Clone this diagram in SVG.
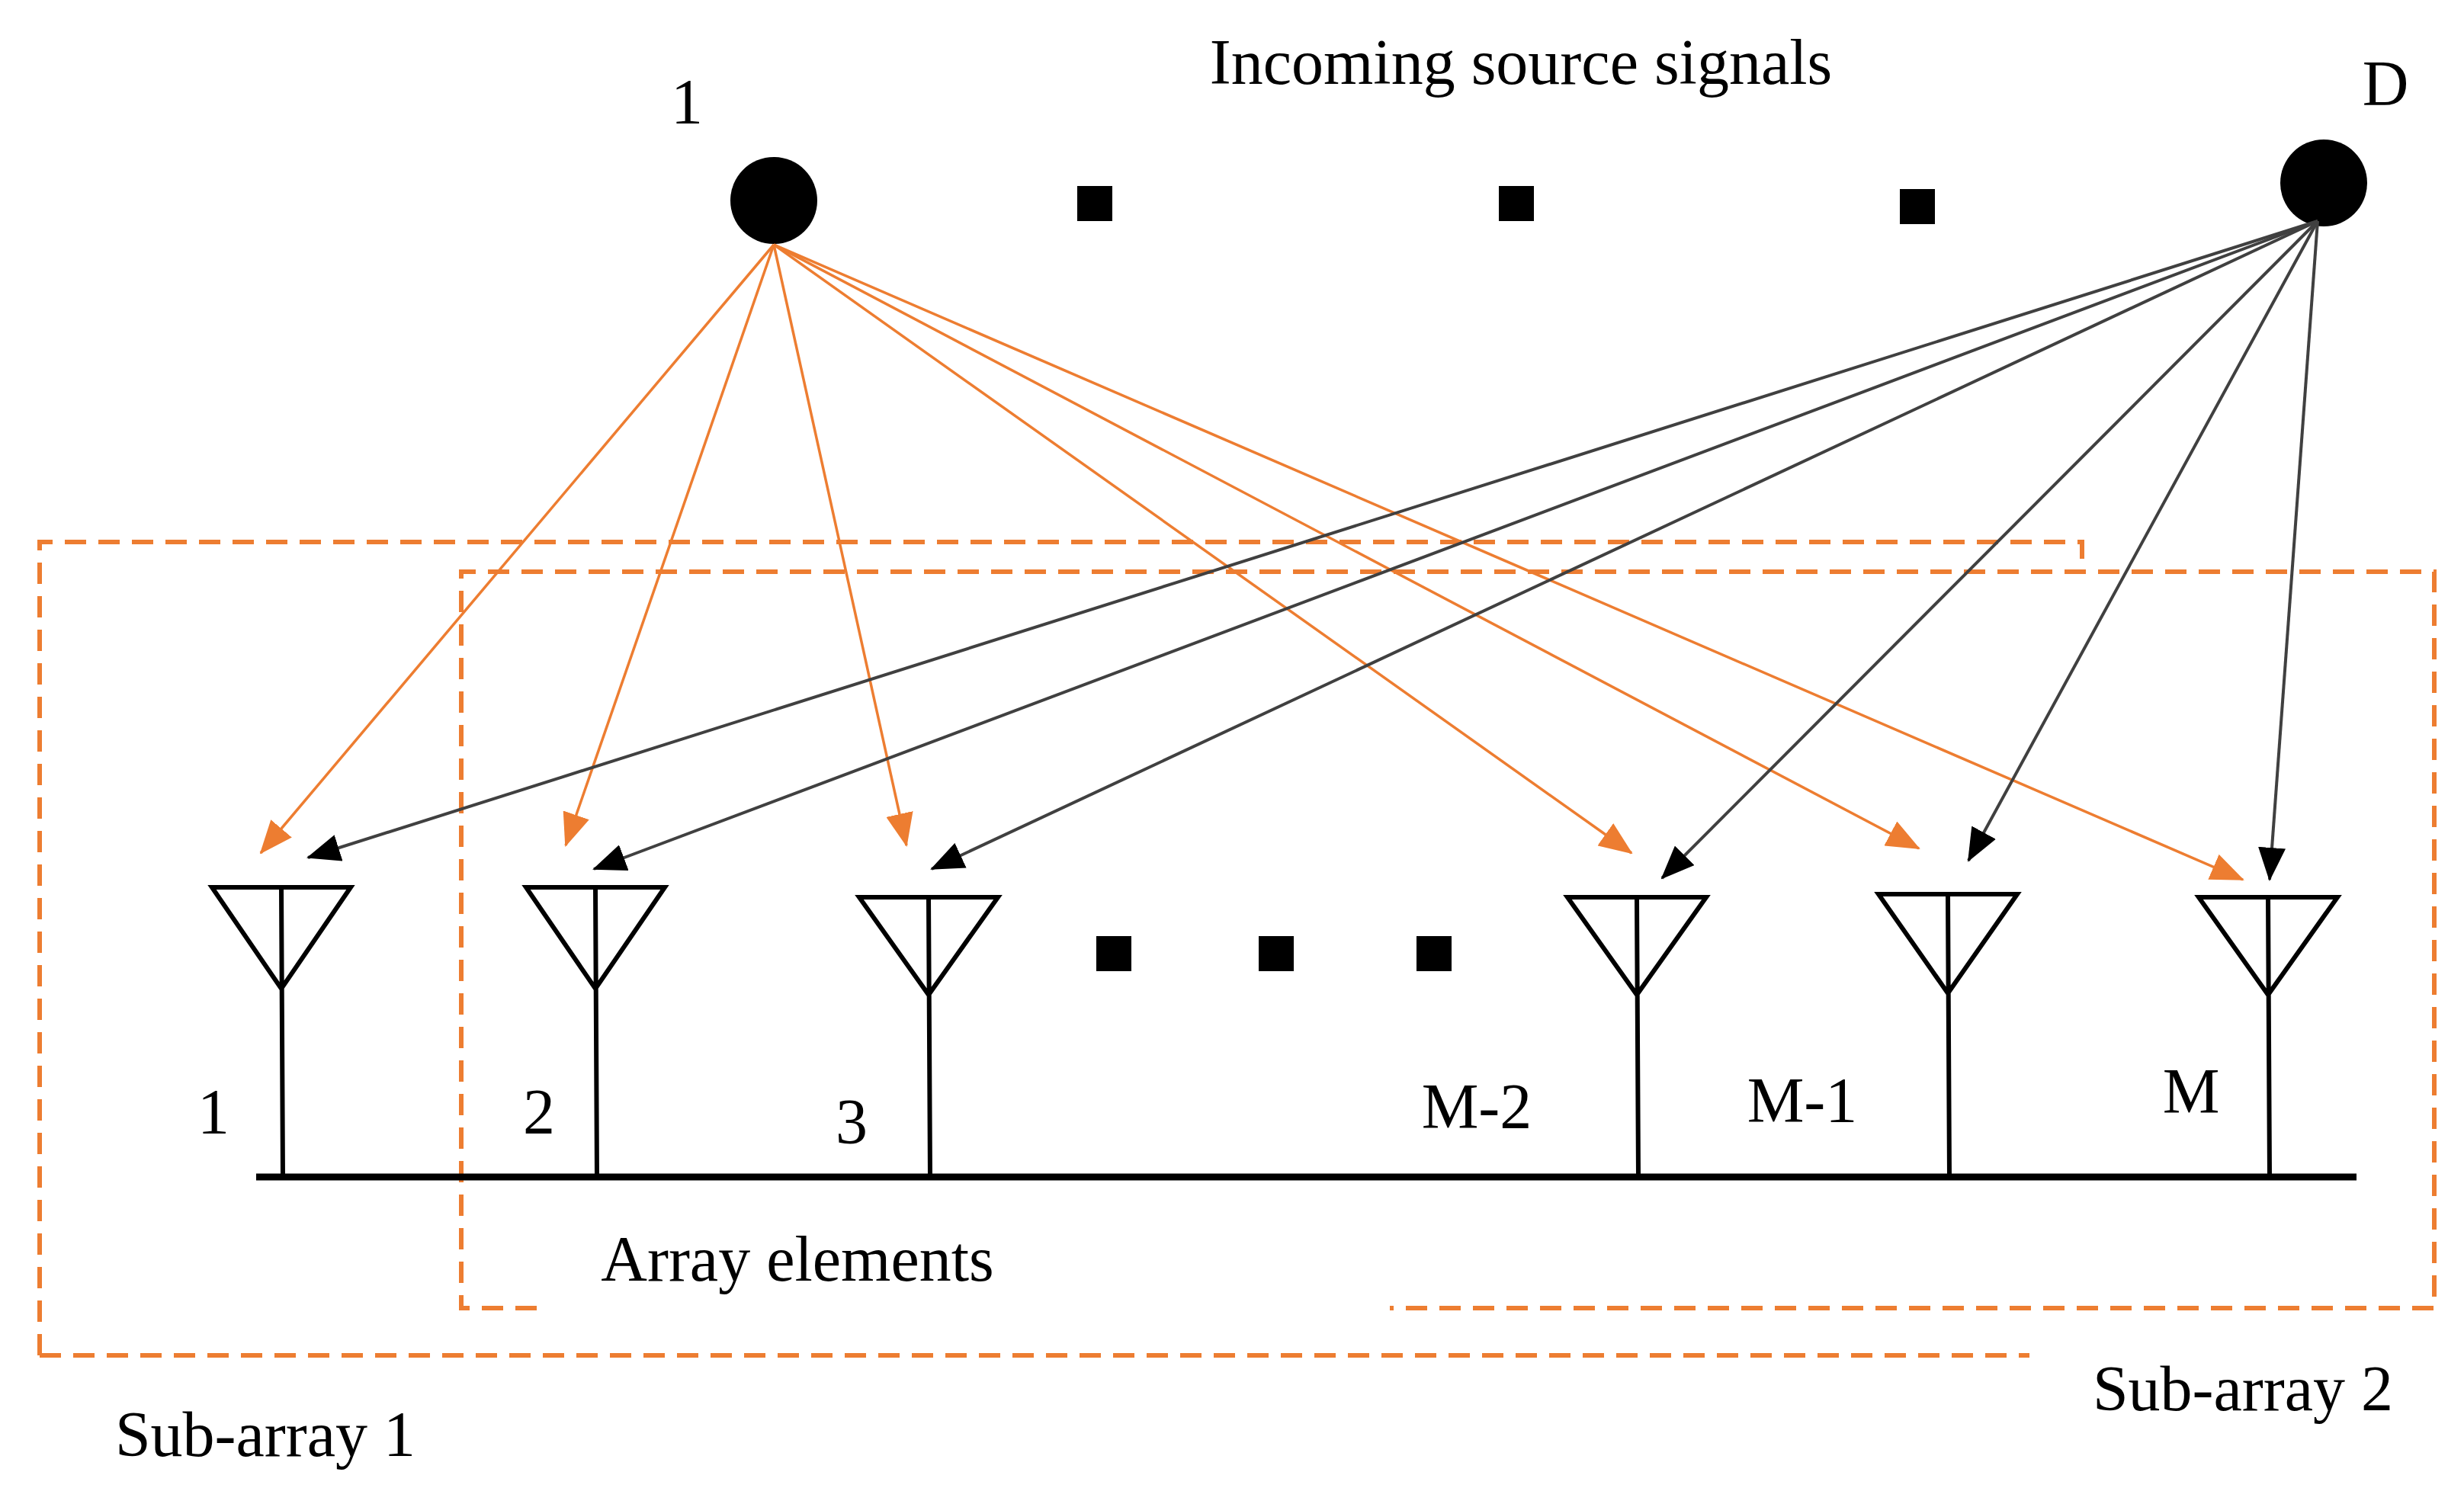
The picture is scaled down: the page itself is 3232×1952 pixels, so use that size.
<svg xmlns="http://www.w3.org/2000/svg" width="3232" height="1952" viewBox="0 0 3232 1952">
<style>
text{font-family:"Liberation Serif","Times New Roman",serif;fill:#000}
.lbl{font-size:84px}
.ant{fill:none;stroke:#000;stroke-width:6}
.or{stroke:#ED7D31;stroke-width:3.5;fill:none;marker-end:url(#ao)}
.bk{stroke:#404040;stroke-width:4;fill:none;marker-end:url(#ab)}
.dash{fill:none;stroke:#ED7D31;stroke-width:6;stroke-dasharray:28 16}
</style>
<defs>
<marker id="ao" markerUnits="userSpaceOnUse" markerWidth="44" markerHeight="36" refX="42" refY="18" orient="auto"><path d="M0,0 L44,18 L0,36 Z" fill="#ED7D31"/></marker>
<marker id="ab" markerUnits="userSpaceOnUse" markerWidth="44" markerHeight="36" refX="42" refY="18" orient="auto"><path d="M0,0 L44,18 L0,36 Z" fill="#000"/></marker>
</defs>
<rect width="3232" height="1952" fill="#fff"/>
<g id="subarrays">
<path class="dash" d="M52,1778 L52,711 L2731,711 L2731,750"/>
<path class="dash" d="M52,1778 L2662,1778"/>
<path class="dash" d="M704,1716 L605,1716 L605,750 L3193,750 L3193,1716 L1823,1716"/>
</g>
<text class="lbl" x="1995" y="110" text-anchor="middle">Incoming source signals</text>
<g id="source1"><circle cx="1015" cy="263" r="57"/><text class="lbl" x="901" y="162" text-anchor="middle">1</text></g>
<g id="sourceD"><circle cx="3048" cy="240" r="57"/><text class="lbl" x="3129" y="138" text-anchor="middle">D</text></g>
<g id="dots-top"><rect x="1413" y="244" width="46" height="46"/><rect x="1966" y="244" width="46" height="46"/><rect x="2492" y="248" width="46" height="46"/></g>
<g id="dots-bottom"><rect x="1438" y="1228" width="46" height="46"/><rect x="1651" y="1228" width="46" height="46"/><rect x="1858" y="1228" width="46" height="46"/></g>
<g id="bus"><line x1="336" y1="1544" x2="3091" y2="1544" stroke="#000" stroke-width="9"/></g>
<g id="ant1"><path class="ant" d="M278,1164 L460,1164 L369,1297 Z M369,1164 L371,1544"/><text class="lbl" x="280" y="1487" text-anchor="middle">1</text></g>
<g id="ant2"><path class="ant" d="M690,1164 L872,1164 L781,1297 Z M781,1164 L783,1544"/><text class="lbl" x="707" y="1487" text-anchor="middle">2</text></g>
<g id="ant3"><path class="ant" d="M1127,1177 L1309,1177 L1218,1305 Z M1218,1177 L1220,1544"/><text class="lbl" x="1117" y="1500" text-anchor="middle">3</text></g>
<g id="antM2"><path class="ant" d="M2056,1177 L2238,1177 L2147,1305 Z M2147,1177 L2149,1544"/><text class="lbl" x="1937" y="1480" text-anchor="middle">M-2</text></g>
<g id="antM1"><path class="ant" d="M2464,1173 L2646,1173 L2555,1303 Z M2555,1173 L2557,1544"/><text class="lbl" x="2364" y="1472" text-anchor="middle">M-1</text></g>
<g id="antM"><path class="ant" d="M2884,1177 L3066,1177 L2975,1305 Z M2975,1177 L2977,1544"/><text class="lbl" x="2874" y="1460" text-anchor="middle">M</text></g>
<text class="lbl" x="1046" y="1680" text-anchor="middle">Array elements</text>
<text class="lbl" x="348" y="1910" text-anchor="middle">Sub-array 1</text>
<text class="lbl" x="2942" y="1850" text-anchor="middle">Sub-array 2</text>
<g id="connectors">
<path class="or" d="M1015,321 L342,1119"/>
<path class="or" d="M1015,321 L742,1109"/>
<path class="or" d="M1015,321 L1189,1109"/>
<path class="or" d="M1015,321 L2140,1119"/>
<path class="or" d="M1015,321 L2517,1113"/>
<path class="or" d="M1015,321 L2942,1154"/>
<path class="bk" d="M3040,290 L404,1125"/>
<path class="bk" d="M3040,290 L779,1140"/>
<path class="bk" d="M3040,290 L1222,1140"/>
<path class="bk" d="M3040,290 L2180,1152"/>
<path class="bk" d="M3040,290 L2582,1129"/>
<path class="bk" d="M3040,290 L2977,1154"/>
</g>
</svg>
